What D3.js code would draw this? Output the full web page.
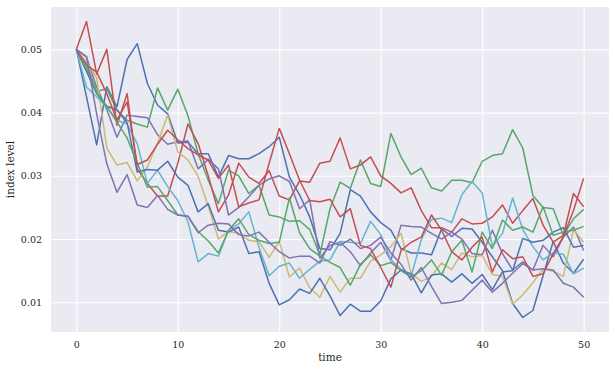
<!DOCTYPE html>
<html>
<head>
<meta charset="utf-8">
<script src="https://cdn.jsdelivr.net/npm/d3@7"></script>
<style>
  body { margin: 0; background: #fff; }
  text { font-family: "DejaVu Serif", serif; fill: #262626; }
</style>
</head>
<body>
<div id="graphic"></div>
<script>
//time steps and tick labels
var time = d3.range(0, 51);
var xTicks = [0, 10, 20, 30, 40, 50];
var yTicks = [0.01, 0.02, 0.03, 0.04, 0.05];

//simulated index paths
var blue1 = [.0500, .0425, .0349, .0441, .0409, .0484, .0509, .0446, .0412, .0398,
    .0352, .0353, .0335, .0335, .0298, .0332, .0327, .0327, .0335, .0346,
    .0361, .0298, .0270, .0235, .0185, .0183, .0209, .0278, .0268, .0243,
    .0226, .0214, .0185, .0178, .0178, .0175, .0216, .0204, .0217, .0216,
    .0195, .0172, .0150, .0098, .0076, .0087, .0142, .0196, .0162, .0146,
    .0168];
var green1 = [.0500, .0477, .0433, .0438, .0404, .0388, .0382, .0377, .0439, .0404,
    .0437, .0395, .0335, .0293, .0256, .0309, .0300, .0272, .0285, .0238,
    .0235, .0228, .0229, .0215, .0175, .0248, .0290, .0280, .0325, .0288,
    .0283, .0367, .0330, .0302, .0312, .0281, .0276, .0293, .0293, .0289,
    .0323, .0332, .0335, .0373, .0344, .0269, .0250, .0248, .0206, .0232,
    .0247];
var red1 = [.0500, .0544, .0461, .0500, .0380, .0430, .0311, .0288, .0268, .0268,
    .0320, .0382, .0351, .0300, .0243, .0270, .0320, .0298, .0288, .0308,
    .0268, .0262, .0292, .0290, .0320, .0323, .0360, .0311, .0317, .0330,
    .0300, .0288, .0273, .0281, .0245, .0218, .0218, .0211, .0232, .0224,
    .0225, .0235, .0254, .0225, .0245, .0264, .0222, .0195, .0206, .0272,
    .0251];
var purple1 = [.0500, .0488, .0440, .0405, .0361, .0396, .0394, .0392, .0365, .0350,
    .0354, .0355, .0311, .0326, .0311, .0238, .0250, .0267, .0285, .0295,
    .0300, .0291, .0248, .0262, .0170, .0190, .0195, .0180, .0158, .0178,
    .0195, .0166, .0222, .0220, .0219, .0209, .0200, .0211, .0200, .0177,
    .0175, .0214, .0177, .0151, .0164, .0151, .0190, .0172, .0203, .0219,
    .0182];
var yellow1 = [.0500, .0480, .0455, .0344, .0317, .0321, .0292, .0314, .0352, .0396,
    .0338, .0325, .0299, .0252, .0200, .0212, .0209, .0198, .0196, .0171,
    .0196, .0140, .0154, .0123, .0108, .0141, .0116, .0138, .0138, .0165,
    .0175, .0188, .0209, .0146, .0133, .0141, .0162, .0152, .0178, .0172,
    .0174, .0144, .0141, .0097, .0112, .0131, .0153, .0149, .0141, .0215,
    .0195];
var cyan1 = [.0500, .0440, .0425, .0409, .0388, .0382, .0351, .0288, .0309, .0283,
    .0261, .0227, .0164, .0177, .0173, .0214, .0224, .0243, .0187, .0142,
    .0157, .0162, .0138, .0152, .0165, .0167, .0196, .0195, .0193, .0228,
    .0207, .0167, .0152, .0141, .0199, .0231, .0233, .0226, .0270, .0291,
    .0273, .0188, .0209, .0265, .0215, .0188, .0167, .0178, .0176, .0145,
    .0154];
var blue2 = [.0500, .0465, .0430, .0410, .0404, .0384, .0306, .0310, .0309, .0323,
    .0298, .0285, .0243, .0256, .0214, .0211, .0219, .0177, .0180, .0130,
    .0096, .0104, .0121, .0114, .0138, .0110, .0079, .0097, .0086, .0086,
    .0102, .0137, .0151, .0145, .0115, .0143, .0145, .0132, .0145, .0130,
    .0144, .0120, .0148, .0150, .0201, .0195, .0198, .0211, .0218, .0187,
    .0190];
var green2 = [.0500, .0470, .0432, .0410, .0385, .0360, .0320, .0282, .0283, .0261,
    .0238, .0236, .0212, .0197, .0178, .0214, .0232, .0207, .0198, .0193,
    .0195, .0265, .0210, .0185, .0173, .0163, .0155, .0127, .0160, .0175,
    .0158, .0163, .0150, .0140, .0150, .0167, .0143, .0180, .0198, .0148,
    .0211, .0185, .0230, .0214, .0219, .0211, .0251, .0206, .0211, .0214,
    .0220];
var red2 = [.0500, .0475, .0464, .0430, .0388, .0417, .0318, .0325, .0350, .0372,
    .0357, .0343, .0333, .0325, .0296, .0317, .0251, .0257, .0262, .0320,
    .0375, .0335, .0293, .0261, .0259, .0263, .0235, .0248, .0190, .0185,
    .0155, .0124, .0182, .0195, .0203, .0238, .0214, .0180, .0167, .0187,
    .0203, .0148, .0183, .0169, .0172, .0141, .0145, .0177, .0204, .0245,
    .0296];
var purple2 = [.0500, .0488, .0398, .0319, .0274, .0302, .0254, .0250, .0269, .0247,
    .0238, .0236, .0210, .0222, .0225, .0224, .0207, .0205, .0211, .0195,
    .0180, .0170, .0173, .0173, .0162, .0196, .0190, .0200, .0185, .0190,
    .0203, .0178, .0160, .0135, .0155, .0125, .0098, .0100, .0103, .0119,
    .0135, .0116, .0130, .0146, .0161, .0151, .0153, .0151, .0130, .0124,
    .0108];

//seaborn deep palette, cycled in drawing order
var series = [blue1, green1, red1, purple1, yellow1, cyan1, blue2, green2, red2, purple2];
var palette = ['#4C72B0', '#55A868', '#C44E52', '#8172B2', '#CCB974', '#64B5CD'];

var width = 615, height = 370;
var margin = {top: 7, right: 6, bottom: 38, left: 51};

var svg = d3.select('#graphic').append('svg')
    .attr('width', width)
    .attr('height', height);

var x = d3.scaleLinear()
    .domain([-2.5, 52.5])
    .range([margin.left, width - margin.right]);

var y = d3.scaleLinear()
    .domain([0.0053, 0.0567])
    .range([height - margin.bottom, margin.top]);

//plot background
svg.append('rect')
    .attr('x', margin.left)
    .attr('y', margin.top)
    .attr('width', width - margin.left - margin.right)
    .attr('height', height - margin.top - margin.bottom)
    .attr('fill', '#EAEAF2');

//grid + tick labels through the axes
svg.append('g')
    .attr('transform', 'translate(0,' + (height - margin.bottom) + ')')
    .call(d3.axisBottom(x)
        .tickValues(xTicks)
        .tickSize(-(height - margin.top - margin.bottom))
        .tickPadding(9));

svg.append('g')
    .attr('transform', 'translate(' + margin.left + ',0)')
    .call(d3.axisLeft(y)
        .tickValues(yTicks)
        .tickFormat(d3.format('.2f'))
        .tickSize(-(width - margin.left - margin.right))
        .tickPadding(9));

svg.selectAll('.domain').remove();
svg.selectAll('.tick line')
    .attr('stroke', '#fff')
    .attr('stroke-width', 1.1);
svg.selectAll('.tick text')
    .attr('font-family', '"DejaVu Serif", serif')
    .attr('font-size', 9.5)
    .attr('fill', '#333');

//the paths
var line = d3.line()
    .x(function(d, i) { return x(time[i]); })
    .y(function(d) { return y(d); });

svg.append('g')
    .selectAll('path')
    .data(series)
    .enter().append('path')
        .attr('d', line)
        .attr('fill', 'none')
        .attr('stroke', function(d, i) { return palette[i % palette.length]; })
        .attr('stroke-width', 1.5)
        .attr('stroke-linejoin', 'round');

//axis labels
svg.append('text')
    .attr('x', x(25))
    .attr('y', 361)
    .attr('text-anchor', 'middle')
    .attr('font-size', 10.5)
    .attr('fill', '#333')
    .text('time');

svg.append('text')
    .attr('transform', 'translate(14,' + y(0.031) + ') rotate(-90)')
    .attr('text-anchor', 'middle')
    .attr('font-size', 10.5)
    .attr('fill', '#333')
    .text('index level');
</script>
</body>
</html>
